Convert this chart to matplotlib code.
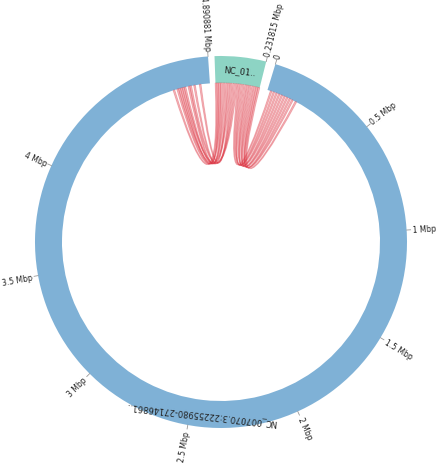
import numpy as np
import matplotlib
matplotlib.use("Agg")
import matplotlib.pyplot as plt
from matplotlib.patches import Wedge, PathPatch
from matplotlib.path import Path

# Data
chrom_labels_short = ["NC_007070.3:22255980-27146861..", "NC_01.."]
chrom_sizes = [4.890881, 0.231815]  # Mbp
chrom_colors = ["#7fb1d6", "#8dd4c4"]
tick_values = [0.5, 1.0, 1.5, 2.0, 2.5, 3.0, 3.5, 4.0]
tick_labels = ["0.5 Mbp", "1 Mbp", "1.5 Mbp", "2 Mbp", "2.5 Mbp", "3 Mbp", "3.5 Mbp", "4 Mbp"]
# links: (position on NC_01.., position on big chromosome) in Mbp
link_small = [0.003, 0.012, 0.022, 0.032, 0.045, 0.058, 0.07, 0.082, 0.095, 0.108,
              0.12, 0.132, 0.145, 0.158, 0.17, 0.182, 0.195, 0.207, 0.218, 0.228]
link_big = [4.70, 4.74, 4.72, 4.78, 4.76, 4.81, 4.73, 4.84, 4.79, 4.75,
            0.02, 0.05, 0.035, 0.08, 0.065, 0.11, 0.095, 0.14, 0.125, 0.16]

R_OUT, R_IN = 186, 159
big_start, big_end = 17.0, 356.0
deg_per_mbp = (big_end - big_start) / chrom_sizes[0]
small_start = -2.0

def ang_big(v):
    return big_start + v * deg_per_mbp

def ang_small(v):
    return small_start + v * deg_per_mbp

def pt(a, r):
    t = np.deg2rad(90 - a)
    return r * np.cos(t), r * np.sin(t)

fig = plt.figure(figsize=(4.4, 4.64), dpi=100)
ax = fig.add_axes([0, 0, 1, 1])
ax.set_xlim(-221, 219)
ax.set_ylim(-221, 243)
ax.axis("off")

segs = [(ang_big(0), ang_big(chrom_sizes[0])), (ang_small(0), ang_small(chrom_sizes[1]))]
for (a0, a1), c in zip(segs, chrom_colors):
    ax.add_patch(Wedge((0, 0), R_OUT, 90 - a1, 90 - a0, width=R_OUT - R_IN, color=c, lw=0))

for s, b in zip(link_small, link_big):
    a1 = ang_small(s)
    a2 = ang_big(b)
    w = 0.008 * deg_per_mbp
    p0 = pt(a1 - w / 2, R_IN); p1 = pt(a1 + w / 2, R_IN)
    q0 = pt(a2 - w / 2, R_IN); q1 = pt(a2 + w / 2, R_IN)
    verts = [p0, (0, 0), q0, q1, (0, 0), p1, p0]
    codes = [Path.MOVETO, Path.CURVE3, Path.CURVE3, Path.LINETO, Path.CURVE3, Path.CURVE3, Path.CLOSEPOLY]
    ax.add_patch(PathPatch(Path(verts, codes), facecolor="#e8626b", edgecolor="#d92534",
                           alpha=0.35, lw=0.7))

def radial_label(a, text, r=R_OUT + 6):
    a_mod = a % 360
    x, y = pt(a, r)
    if a_mod < 180:
        rot, ha = 90 - a_mod, "left"
    else:
        rot, ha = 270 - a_mod, "right"
    ax.text(x, y, text, rotation=rot, ha=ha, va="center", rotation_mode="anchor",
            fontsize=5.5, color="#222222")
    x0, y0 = pt(a, R_OUT)
    x1, y1 = pt(a, R_OUT + 4)
    ax.plot([x0, x1], [y0, y1], color="#999999", lw=0.6)

for v, l in zip(tick_values, tick_labels):
    radial_label(ang_big(v), l)
radial_label(ang_big(0), "0")
radial_label(ang_big(chrom_sizes[0]), "4.890881 Mbp")
radial_label(ang_small(chrom_sizes[1]), "0.231815 Mbp")

am = (segs[0][0] + segs[0][1]) / 2
x, y = pt(am, (R_OUT + R_IN) / 2)
ax.text(x, y, chrom_labels_short[0], rotation=-am + 360, ha="center", va="center",
        fontsize=6, color="#222222", rotation_mode="anchor")
am = (segs[1][0] + segs[1][1]) / 2
x, y = pt(am, (R_OUT + R_IN) / 2)
ax.text(x, y, chrom_labels_short[1], rotation=-am, ha="center", va="center",
        fontsize=6, color="#222222", rotation_mode="anchor")

fig.savefig("out.png", dpi=100)
